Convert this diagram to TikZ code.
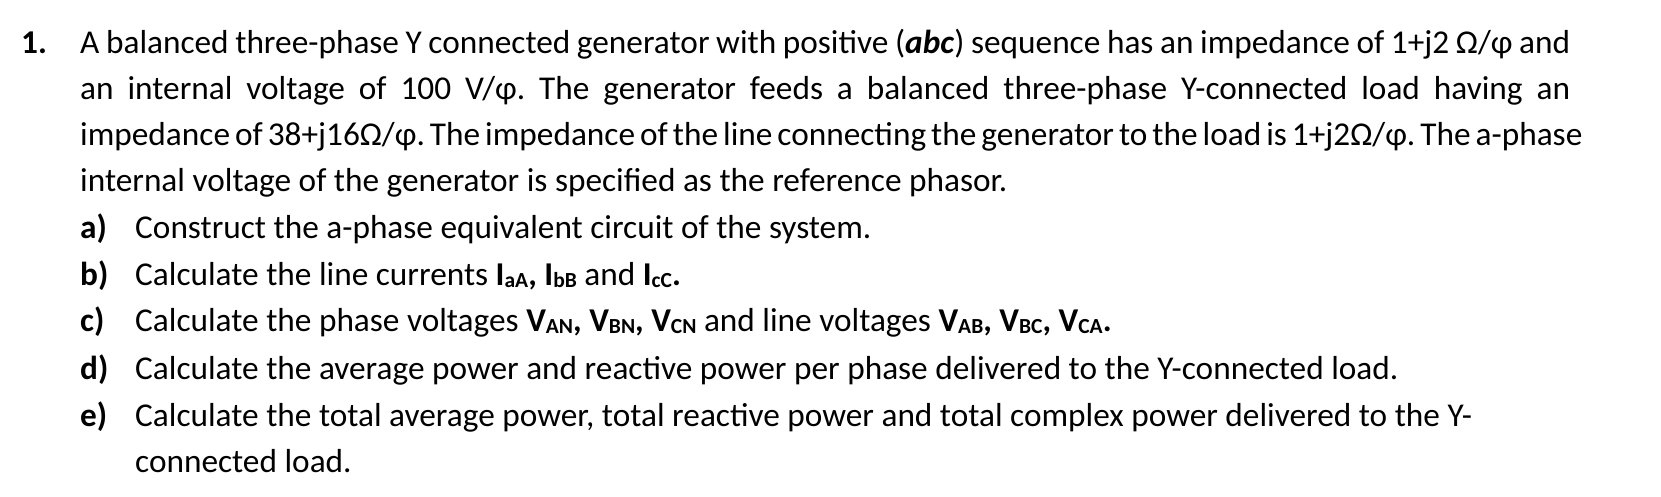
\documentclass[tikz,border=0pt]{standalone}
\usepackage{fontspec}
\setmainfont{Carlito}
\frenchspacing
\newcommand{\sub}[2]{\textbf{#1}\raisebox{-2pt}{\fontsize{21.5}{21.5}\selectfont\bfseries #2}}
\tikzset{txt/.style={anchor=base west,inner sep=0pt,font=\fontsize{33.3}{36}\selectfont}}
\begin{document}
\begin{tikzpicture}[x=1pt,y=-1pt]
\useasboundingbox[fill=white] (0,0) rectangle (1661,497);
\node[txt] (n1) at (21,54) {\textbf{1.}};
\node[txt] (l1) at (80,54) {\makebox[1490pt][s]{A balanced three-phase Y connected generator with positive (\textbf{\textit{abc}}) sequence has an impedance of 1+j2 Ω/φ and}};
\node[txt] (l2) at (80,100) {\makebox[1490pt][s]{an internal voltage of 100 V/φ. The generator feeds a balanced three-phase Y-connected load having an}};
\node[txt] (l3) at (80,146) {\makebox[1493pt][s]{impedance of 38+j16Ω/φ. The impedance of the line connecting the generator to the load is 1+j2Ω/φ. The a-phase}};
\node[txt] (l4) at (80,192) {internal voltage of the generator is specified as the reference phasor.};
\node[txt] (a) at (80,238) {\textbf{a)}};
\node[txt] (at) at (135,238) {Construct the a-phase equivalent circuit of the system.};
\node[txt] (b) at (80,285) {\textbf{b)}};
\node[txt] (bt) at (135,285) {Calculate the line currents \sub{I}{aA}\textbf{,} \sub{I}{bB} and \sub{I}{cC}\textbf{.}};
\node[txt] (c) at (80,331) {\textbf{c)}};
\node[txt] (ct) at (135,331) {Calculate the phase voltages \sub{V}{AN}\textbf{,} \sub{V}{BN}\textbf{,} \sub{V}{CN} and line voltages \sub{V}{AB}\textbf{,} \sub{V}{BC}\textbf{,} \sub{V}{CA}\textbf{.}};
\node[txt] (d) at (80,379) {\textbf{d)}};
\node[txt] (dt) at (135,379) {Calculate the average power and reactive power per phase delivered to the Y-connected load.};
\node[txt] (e) at (80,426) {\textbf{e)}};
\node[txt] (et) at (135,426) {Calculate the total average power, total reactive power and total complex power delivered to the Y-};
\node[txt] (et2) at (135,472) {connected load.};
\end{tikzpicture}
\end{document}
